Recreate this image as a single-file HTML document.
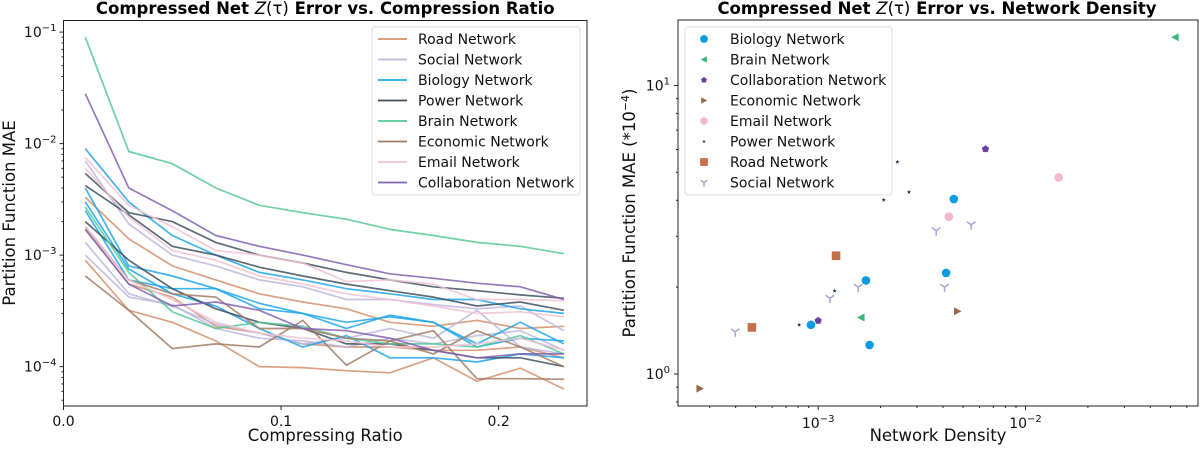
<!DOCTYPE html>
<html><head><meta charset="utf-8"><style>
body{margin:0;background:#fff;}
svg{display:block;font-family:"DejaVu Sans","Liberation Sans",sans-serif;}
</style></head><body>
<svg id="fig" width="1200" height="452" viewBox="0 0 1200 452" xmlns="http://www.w3.org/2000/svg"></svg>
<script>
// ---------- Left chart data ----------
const ratios = [0.01,0.03,0.05,0.07,0.09,0.11,0.13,0.15,0.17,0.19,0.21,0.23];
const lineCategories = ["Road Network","Social Network","Biology Network","Power Network","Brain Network","Economic Network","Email Network","Collaboration Network"];
const road1 = [0.0033,0.0014,0.0008,0.0006,0.00045,0.00038,0.00033,0.00025,0.00023,0.00026,0.00022,0.00023];
const road2 = [0.0009,0.00032,0.00025,0.00017,0.0001,0.000098,0.000092,0.000088,0.00012,0.000074,0.000097,0.000063];
const road3 = [0.0017,0.00055,0.00042,0.00023,0.0002,0.00016,0.00015,0.00015,0.00014,0.00014,0.00015,0.00012];
const social1 = [0.007,0.0019,0.001,0.0008,0.0006,0.00052,0.0004,0.0004,0.00036,0.00033,0.00035,0.00021];
const social2 = [0.0013,0.00045,0.00035,0.00024,0.0002,0.00016,0.00018,0.00022,0.00018,0.00032,0.00015,0.00013];
const social3 = [0.001,0.00042,0.00036,0.00022,0.00018,0.00017,0.00015,0.00018,0.00016,0.00019,0.00021,0.00014];
const bio1 = [0.009,0.003,0.0015,0.001,0.0007,0.0006,0.0005,0.00045,0.0004,0.0004,0.00033,0.0003];
const bio2 = [0.004,0.0008,0.00065,0.0005,0.00037,0.0003,0.00025,0.00028,0.00025,0.00016,0.00025,0.00016];
const bio3 = [0.003,0.00075,0.00045,0.00035,0.00022,0.00015,0.00019,0.00012,0.00012,0.00011,0.00013,0.00012];
const bio4 = [0.0025,0.0006,0.0005,0.0005,0.00033,0.0003,0.00022,0.00029,0.00025,0.00015,0.00018,0.00017];
const power1 = [0.0054,0.0024,0.002,0.0013,0.001,0.00085,0.0007,0.0006,0.00052,0.00048,0.00044,0.00041];
const power2 = [0.0042,0.0023,0.0012,0.001,0.00078,0.00065,0.00055,0.00048,0.00042,0.00035,0.00038,0.00032];
const power3 = [0.002,0.0009,0.0005,0.00033,0.00025,0.00022,0.00016,0.00016,0.00014,0.00012,0.00012,0.0001];
const brain1 = [0.09,0.0085,0.0066,0.004,0.0028,0.0024,0.0021,0.0017,0.0015,0.0013,0.0012,0.00103];
const brain2 = [0.0027,0.0007,0.00031,0.00022,0.00025,0.00023,0.00018,0.00016,0.00016,0.00015,0.00019,0.00013];
const econ1 = [0.00065,0.00032,0.000145,0.00016,0.00015,0.00026,0.000103,0.00017,0.00021,0.000078,0.000078,0.000077];
const econ2 = [0.0018,0.0006,0.00045,0.00042,0.00022,0.00022,0.00018,0.00017,0.00013,0.00021,0.00015,0.0001];
const email1 = [0.0075,0.0028,0.0018,0.0011,0.001,0.00085,0.00058,0.0006,0.00055,0.0004,0.0004,0.00039];
const email2 = [0.006,0.0022,0.0011,0.0009,0.00065,0.00055,0.00045,0.0004,0.00035,0.0003,0.00031,0.00028];
const email3 = [0.0018,0.0006,0.0004,0.00025,0.0002,0.00018,0.00017,0.00015,0.00015,0.00016,0.00018,0.00014];
const collab1 = [0.028,0.004,0.0025,0.0015,0.0012,0.001,0.00082,0.00068,0.00062,0.00056,0.00052,0.0004];
const collab2 = [0.0017,0.00055,0.00035,0.00038,0.00032,0.00022,0.00021,0.00018,0.00014,0.00012,0.00013,0.00013];
const leftXTicks = [0.0,0.1,0.2];
const leftYTickExps = [-1,-2,-3,-4];

// ---------- Right chart data ----------
const scatterCategories = ["Biology Network","Brain Network","Collaboration Network","Economic Network","Email Network","Power Network","Road Network","Social Network"];
const bioDensity = [0.000923,0.0017,0.00177,0.00414,0.00451];
const bioMAE = [1.48,2.11,1.26,2.24,4.04];
const brainDensity = [0.0527,0.00161];
const brainMAE = [14.7,1.57];
const collabDensity = [0.00641,0.001];
const collabMAE = [6.02,1.53];
const econDensity = [0.000269,0.0047];
const econMAE = [0.89,1.65];
const emailDensity = [0.01445,0.00427];
const emailMAE = [4.8,3.51];
const powerDensity = [0.00241,0.00274,0.00207,0.0012,0.00081];
const powerMAE = [5.43,4.27,4.01,1.94,1.48];
const roadDensity = [0.00122,0.000479];
const roadMAE = [2.57,1.45];
const socialDensity = [0.00371,0.00547,0.00407,0.00156,0.00114,0.000398];
const socialMAE = [3.14,3.29,2.0,2.0,1.83,1.4];
const rightXTickExps = [-3,-2];
const rightYTickExps = [0,1];

const NS="http://www.w3.org/2000/svg";
const svg=document.getElementById('fig');
function mk(tag,attrs,parent){const e=document.createElementNS(NS,tag);for(const k in attrs)e.setAttribute(k,attrs[k]);(parent||svg).appendChild(e);return e;}

// ----- Left axes -----
const L={x0:63.5,x1:587,y0:20.5,y1:406,xmin:0,xmax:0.2406,lmin:-4.353,lmax:-0.896};
const lx=v=>L.x0+(v-L.xmin)/(L.xmax-L.xmin)*(L.x1-L.x0);
const ly=v=>L.y1-(Math.log10(v)-L.lmin)/(L.lmax-L.lmin)*(L.y1-L.y0);
const gL=mk('g',{});



const lineSeries=[
 [road1,'#d4916c'],[road2,'#d4916c'],[road3,'#d4916c'],
 [social1,'#bcb8de'],[social2,'#bcb8de'],[social3,'#bcb8de'],
 [bio1,'#1ea6ea'],[bio2,'#1ea6ea'],[bio3,'#1ea6ea'],[bio4,'#1ea6ea'],
 [power1,'#3e5160'],[power2,'#3e5160'],[power3,'#3e5160'],
 [brain1,'#55c996'],[brain2,'#55c996'],
 [econ1,'#a17c66'],[econ2,'#a17c66'],
 [email1,'#f2c2d4'],[email2,'#f2c2d4'],[email3,'#f2c2d4'],
 [collab1,'#8262b4'],[collab2,'#8262b4']];
const lineNames=['road','road','road','social','social','social','biology','biology','biology','biology','power','power','power','brain','brain','economic','economic','email','email','email','collaboration','collaboration'];
lineSeries.forEach((s,i)=>{
  const d=s[0].map((v,j)=>(j?'L':'M')+lx(ratios[j]).toFixed(1)+','+ly(v).toFixed(1)).join('');
  const p=mk('path',{d:d,fill:'none',stroke:s[1],'stroke-width':1.7,'stroke-opacity':0.85},gL);
  
  
});
mk('rect',{x:L.x0,y:L.y0,width:L.x1-L.x0,height:L.y1-L.y0,fill:'none',stroke:'#222','stroke-width':1},gL);
leftXTicks.forEach(t=>{
  const x=lx(t);
  mk('line',{x1:x,x2:x,y1:L.y1,y2:L.y1+4,stroke:'#222'},gL);
  const tx=mk('text',{x:x,y:L.y1+20,'text-anchor':'middle','font-size':14,fill:'#111'},gL);
  tx.textContent=t.toFixed(1);
  
  
});
for(let e=-5;e<=-1;e++){for(let m=1;m<10;m++){const v=m*Math.pow(10,e);const lv=Math.log10(v);if(lv<L.lmin||lv>L.lmax)continue;const y=ly(v);
  mk('line',{x1:L.x0,x2:L.x0-(m===1?4:2),y1:y,y2:y,stroke:'#222'},gL);}}
leftYTickExps.forEach(e=>{
  const y=ly(Math.pow(10,e));
  const tx=mk('text',{x:L.x0-7,y:y+5,'text-anchor':'end','font-size':14,fill:'#111'},gL);
  tx.innerHTML='10<tspan dy="-6" font-size="10">−'+(-e)+'</tspan>';
  
  
});
let t=mk('text',{x:(L.x0+L.x1)/2,y:441,'text-anchor':'middle','font-size':16.5,fill:'#111'},gL);
t.textContent='Compressing Ratio';

t=mk('text',{x:0,y:0,'text-anchor':'middle','font-size':16.5,fill:'#111',transform:'translate(15,213) rotate(-90)'},gL);
t.textContent='Partition Function MAE';

t=mk('text',{x:(L.x0+L.x1)/2,y:14,'text-anchor':'middle','font-size':16.5,'font-weight':'bold',fill:'#000'},gL);
t.innerHTML='Compressed Net <tspan font-style="italic" font-weight="normal">Z</tspan><tspan font-weight="normal">(τ)</tspan> Error vs. Compression Ratio';

// legend
const legL=mk('g',{},gL);

mk('rect',{x:372,y:27,width:208,height:168,rx:3,fill:'#fff','fill-opacity':0.85,stroke:'#ddd'},legL);
const legColorsL=['#d4916c','#bcb8de','#1ea6ea','#3e5160','#55c996','#a17c66','#f2c2d4','#8262b4'];
lineCategories.forEach((n,i)=>{
  const y=39+i*20.5;
  const g=mk('g',{},legL);
  
  mk('line',{x1:378,x2:407,y1:y,y2:y,stroke:legColorsL[i],'stroke-width':1.8},g);
  const tx=mk('text',{x:418,y:y+5,'font-size':14,fill:'#111'},g);tx.textContent=n;
});

// ----- Right axes -----
const R={x0:678,x1:1198,y0:20,y1:406,lxmin:-3.676,lxmax:-1.168,lymin:-0.111,lymax:1.227};
const rx=v=>R.x0+(Math.log10(v)-R.lxmin)/(R.lxmax-R.lxmin)*(R.x1-R.x0);
const ry=v=>R.y1-(Math.log10(v)-R.lymin)/(R.lymax-R.lymin)*(R.y1-R.y0);
const gR=mk('g',{});

mk('rect',{x:R.x0,y:R.y0,width:R.x1-R.x0,height:R.y1-R.y0,fill:'none',stroke:'#222'},gR);
for(let e=-4;e<=-1;e++){for(let m=1;m<10;m++){const v=m*Math.pow(10,e);const lv=Math.log10(v);if(lv<R.lxmin||lv>R.lxmax)continue;const x=rx(v);
  mk('line',{x1:x,x2:x,y1:R.y1,y2:R.y1+(m===1?4:2),stroke:'#222'},gR);}}
for(let e=-1;e<=1;e++){for(let m=1;m<10;m++){const v=m*Math.pow(10,e);const lv=Math.log10(v);if(lv<R.lymin||lv>R.lymax)continue;const y=ry(v);
  mk('line',{x1:R.x0,x2:R.x0-(m===1?4:2),y1:y,y2:y,stroke:'#222'},gR);}}
rightXTickExps.forEach(e=>{
  const tx=mk('text',{x:rx(Math.pow(10,e)),y:R.y1+22,'text-anchor':'middle','font-size':14,fill:'#111'},gR);
  tx.innerHTML='10<tspan dy="-6" font-size="10">−'+(-e)+'</tspan>';
  
});
rightYTickExps.forEach(e=>{
  const tx=mk('text',{x:R.x0-8,y:ry(Math.pow(10,e))+5,'text-anchor':'end','font-size':14,fill:'#111'},gR);
  tx.innerHTML='10<tspan dy="-6" font-size="10">'+e+'</tspan>';
  
});
t=mk('text',{x:(R.x0+R.x1)/2,y:441,'text-anchor':'middle','font-size':16.5,fill:'#111'},gR);
t.textContent='Network Density';

t=mk('text',{x:0,y:0,'text-anchor':'middle','font-size':16.5,fill:'#111',transform:'translate(635,213) rotate(-90)'},gR);
t.innerHTML='Partition Function MAE (*10<tspan dy="-6" font-size="11">−4</tspan><tspan dy="6">)</tspan>';

t=mk('text',{x:(R.x0+R.x1)/2-1,y:14,'text-anchor':'middle','font-size':16.5,'font-weight':'bold',fill:'#000'},gR);
t.innerHTML='Compressed Net <tspan font-style="italic" font-weight="normal">Z</tspan><tspan font-weight="normal">(τ)</tspan> Error vs. Network Density';


function marker(type,x,y,parent,scale){
  const s=scale||1;let e;
  switch(type){
    case 'circle': e=mk('circle',{cx:x,cy:y,r:4.3*s,fill:'#0a9be0'},parent);break;
    case 'left': e=mk('path',{d:`M${x-4*s},${y}L${x+3.5*s},${y-4*s}L${x+3.5*s},${y+4*s}Z`,fill:'#3ab57c'},parent);break;
    case 'pent': {const pts=[];for(let k=0;k<5;k++){const a=-Math.PI/2+k*2*Math.PI/5;pts.push((x+3.8*s*Math.cos(a)).toFixed(1)+','+(y+3.8*s*Math.sin(a)).toFixed(1));}
      e=mk('polygon',{points:pts.join(' '),fill:'#6b3fa0'},parent);break;}
    case 'right': e=mk('path',{d:`M${x+4*s},${y}L${x-3.5*s},${y-4*s}L${x-3.5*s},${y+4*s}Z`,fill:'#98684a'},parent);break;
    case 'email': e=mk('circle',{cx:x,cy:y,r:4.3*s,fill:'#f1b9cb'},parent);break;
    case 'star': {const pts=[];for(let k=0;k<10;k++){const a=-Math.PI/2+k*Math.PI/5;const r=(k%2?0.9:2.2)*s;pts.push((x+r*Math.cos(a)).toFixed(1)+','+(y+r*Math.sin(a)).toFixed(1));}
      e=mk('polygon',{points:pts.join(' '),fill:'#18283a'},parent);break;}
    case 'square': e=mk('rect',{x:x-4.3*s,y:y-4.3*s,width:8.6*s,height:8.6*s,fill:'#c46f48'},parent);break;
    case 'tri': e=mk('path',{d:`M${x},${y}L${x},${y+5*s}M${x},${y}L${x-4.3*s},${y-3*s}M${x},${y}L${x+4.3*s},${y-3*s}`,stroke:'#a6a6d6','stroke-width':1.5,fill:'none'},parent);break;
  }
  return e;
}
const scatterSets=[[bioDensity,bioMAE,'circle','biology'],[brainDensity,brainMAE,'left','brain'],[collabDensity,collabMAE,'pent','collaboration'],[econDensity,econMAE,'right','economic'],[emailDensity,emailMAE,'email','email'],[powerDensity,powerMAE,'star','power'],[roadDensity,roadMAE,'square','road'],[socialDensity,socialMAE,'tri','social']];
scatterSets.forEach(s=>{
  s[0].forEach((d,i)=>{
    const m=marker(s[2],rx(d),ry(s[1][i]),gR);
    
    
  });
});
const legR=mk('g',{},gR);

mk('rect',{x:685,y:27,width:207,height:168,rx:3,fill:'#fff','fill-opacity':0.85,stroke:'#ddd'},legR);
scatterCategories.forEach((n,i)=>{
  const y=39+i*20.5;
  const g=mk('g',{},legR);
  
  marker(scatterSets[i][2],704,y,g,scatterSets[i][2]==='circle'||scatterSets[i][2]==='email'||scatterSets[i][2]==='square'?0.9:0.8);
  const tx=mk('text',{x:730,y:y+5,'font-size':14,fill:'#111'},g);tx.textContent=n;
});
</script>
</body></html>
